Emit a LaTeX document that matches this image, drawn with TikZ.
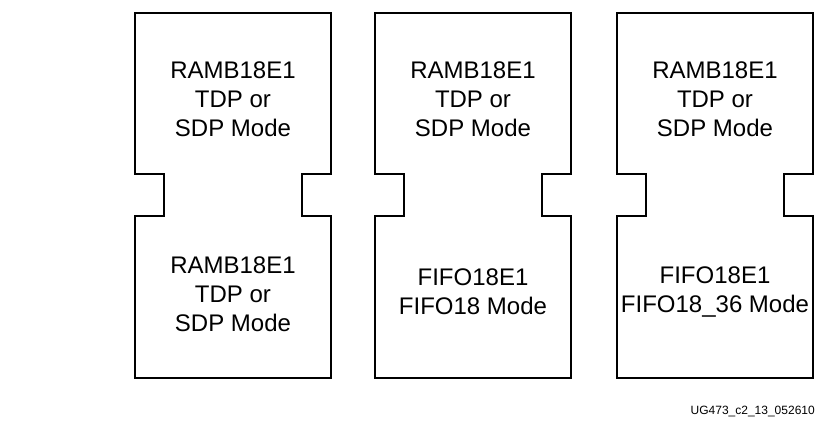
\documentclass[tikz,border=0pt]{standalone}
\usepackage{fontspec}
\setmainfont{Liberation Sans}
\begin{document}
\begin{tikzpicture}[x=1pt,y=-1pt,
    block/.style={draw, line width=2pt, line join=miter},
    txt/.style={align=center, font=\fontsize{24}{29}\selectfont, inner sep=0pt}
]
\useasboundingbox (0,0) rectangle (838,433);
% block outline with notches, left edge at #1
\newcommand{\bramblock}[1]{%
  \draw[block] (#1,13) -- ++(196,0) -- ++(0,161) -- ++(-29,0) -- ++(0,42) -- ++(29,0)
    -- ++(0,162) -- ++(-196,0) -- ++(0,-162) -- ++(29,0) -- ++(0,-42) -- ++(-29,0) -- cycle;}
\bramblock{135}
\bramblock{375}
\bramblock{617}

\node[txt] (a1) at (233,99) {RAMB18E1\\TDP or\\SDP Mode};
\node[txt] (a2) at (233,294) {RAMB18E1\\TDP or\\SDP Mode};
\node[txt] (b1) at (473,99) {RAMB18E1\\TDP or\\SDP Mode};
\node[txt] (b2) at (473,292) {FIFO18E1\\FIFO18 Mode};
\node[txt] (c1) at (715,99) {RAMB18E1\\TDP or\\SDP Mode};
\node[txt] (c2) at (715,292) {FIFO18E1\\FIFO18\_36 Mode};

\node[anchor=east, font=\fontsize{12}{14}\selectfont, inner sep=0pt] (id) at (815,411) {UG473\_c2\_13\_052610};
\end{tikzpicture}
\end{document}
